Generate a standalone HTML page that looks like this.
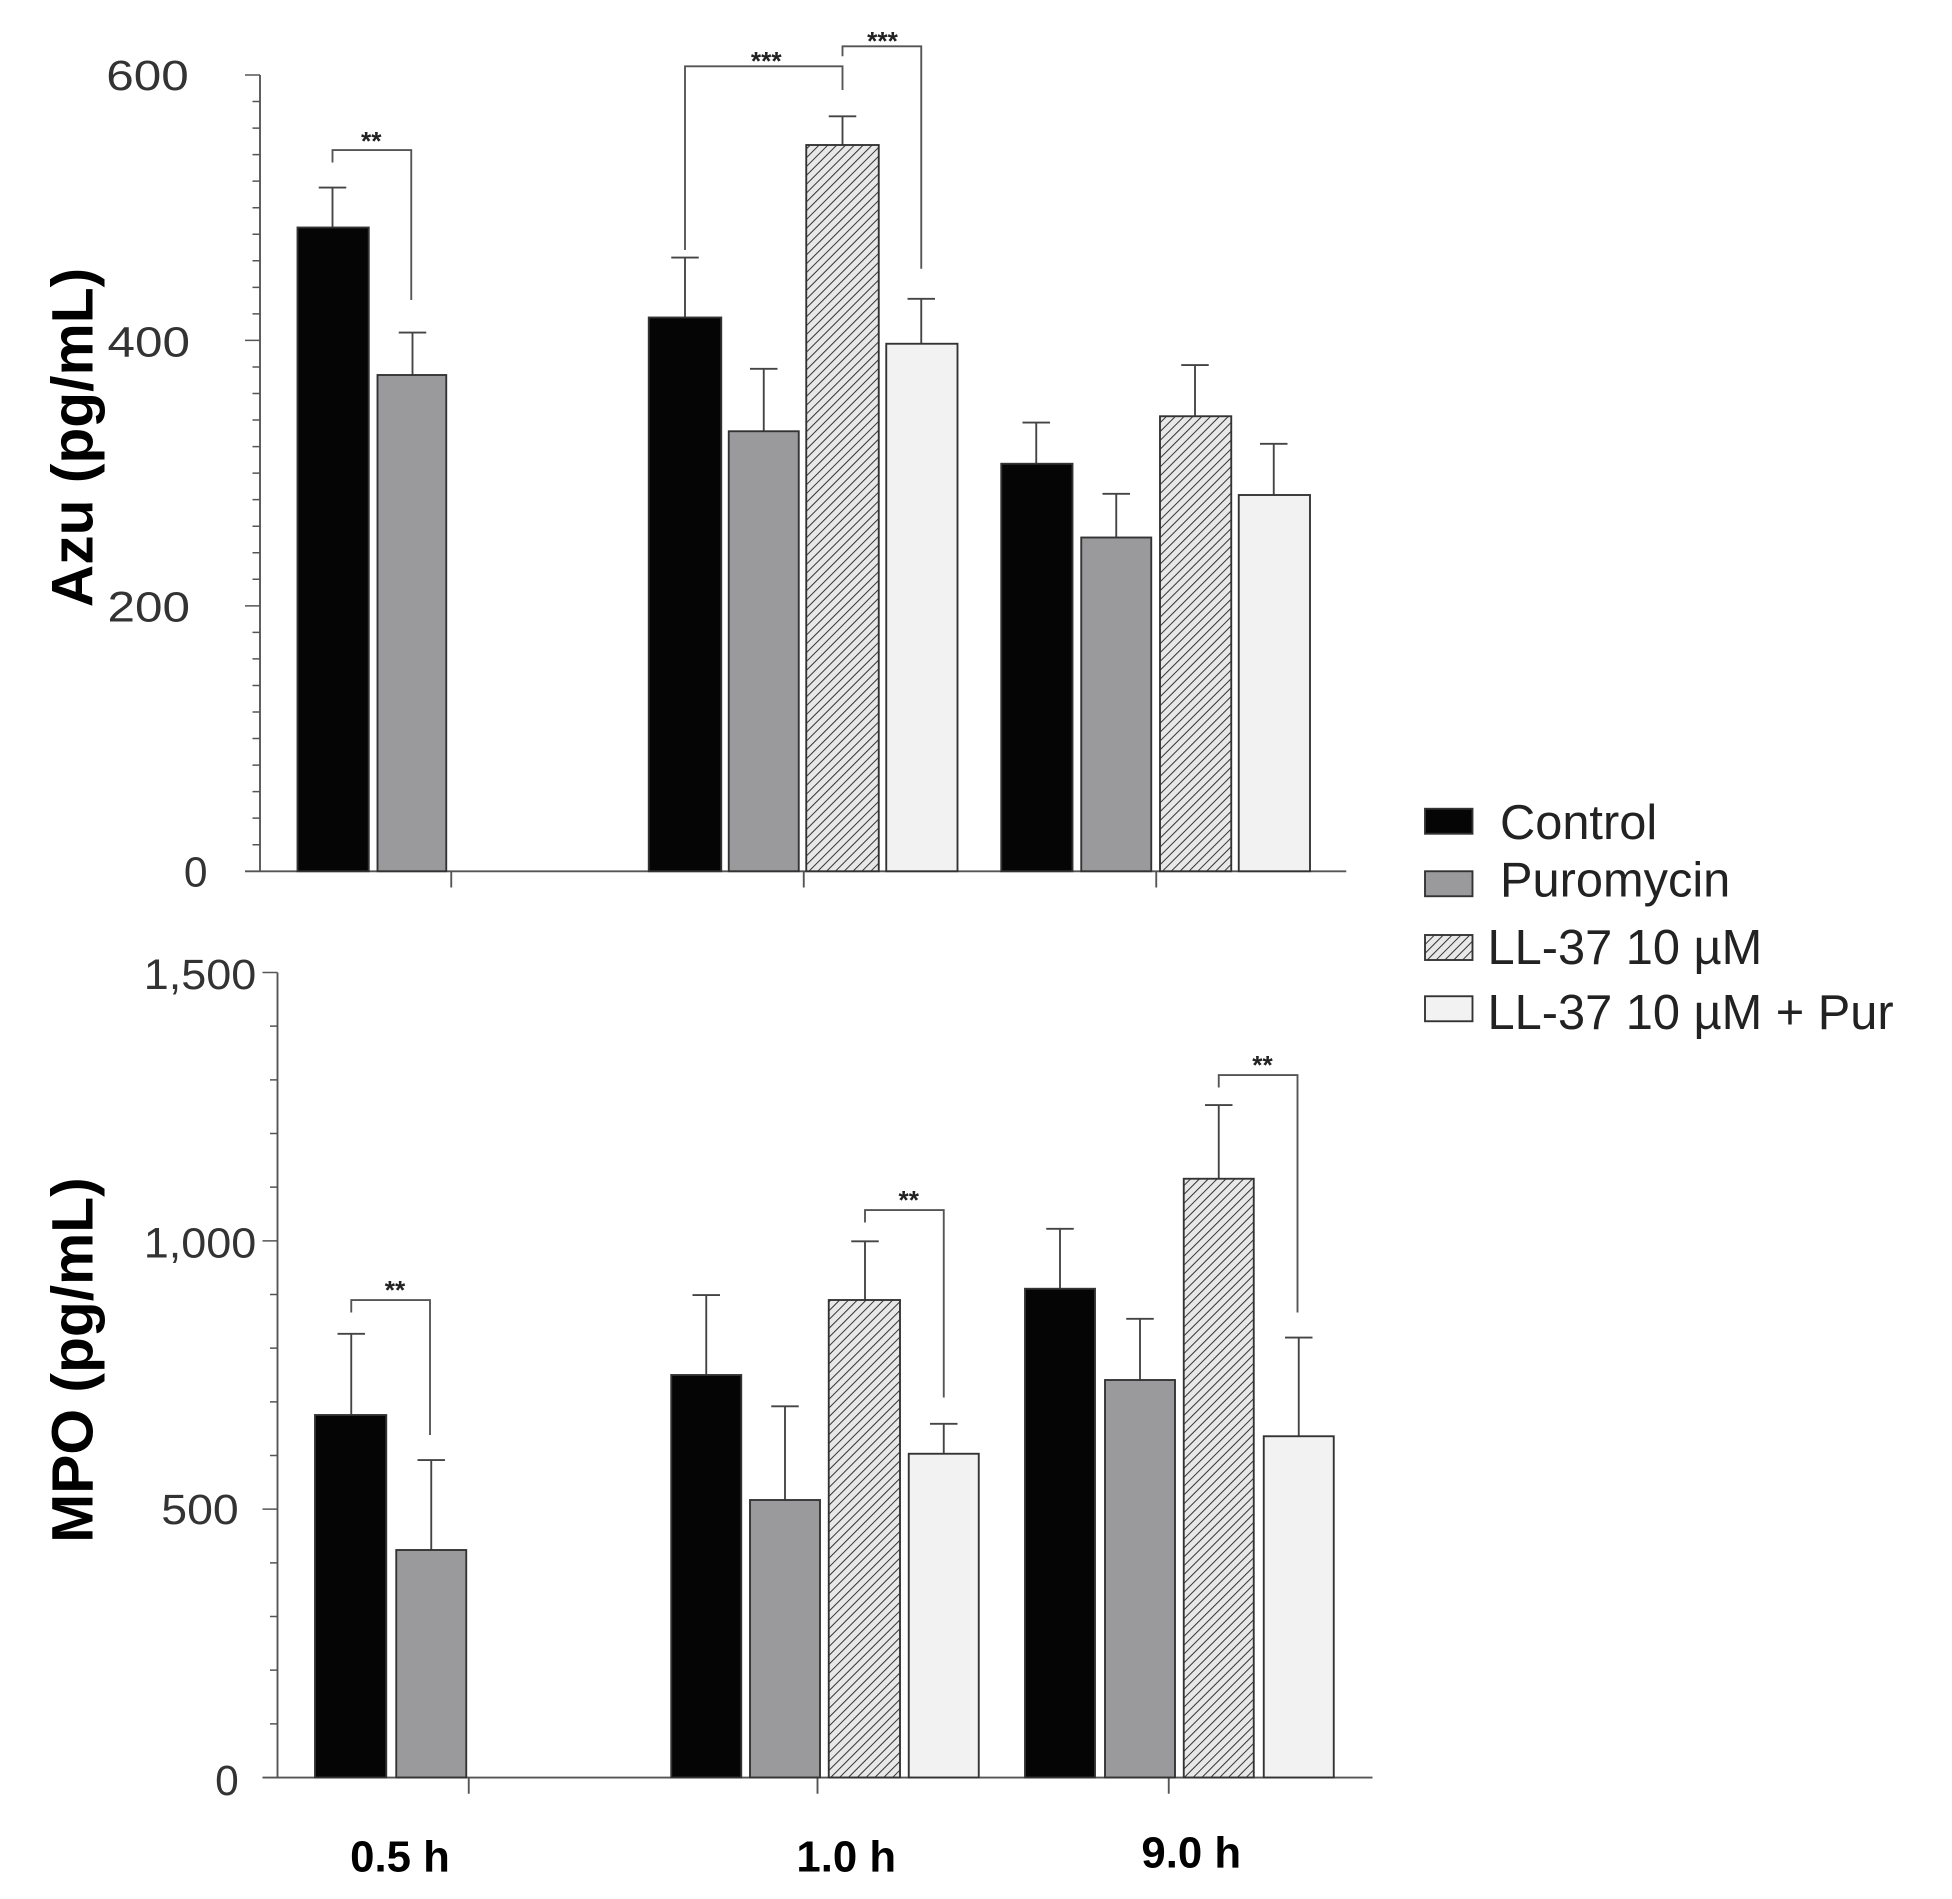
<!DOCTYPE html>
<html><head><meta charset="utf-8"><style>html,body{margin:0;padding:0;background:#fff}svg{display:block}</style></head>
<body>
<svg width="1952" height="1899" viewBox="0 0 1561.6 1519.2" xmlns="http://www.w3.org/2000/svg" font-family="Liberation Sans, sans-serif">
<defs>
<pattern id="h" patternUnits="userSpaceOnUse" width="5" height="5" patternTransform="rotate(45)">
<rect width="5" height="5" fill="#e8e8e8"/><line x1="0" y1="0" x2="0" y2="5" stroke="#333" stroke-width="1.6"/>
</pattern>
</defs>
<g stroke="#555" stroke-width="1.5" fill="none">
<line x1="208" y1="60" x2="208" y2="697"/>
<line x1="196" y1="697" x2="1077" y2="697"/>
<line x1="361" y1="697" x2="361" y2="710"/><line x1="643" y1="697" x2="643" y2="710"/><line x1="925" y1="697" x2="925" y2="710"/>
<line x1="222" y1="778" x2="222" y2="1422"/>
<line x1="210" y1="1422" x2="1098" y2="1422"/>
<line x1="375" y1="1422" x2="375" y2="1435"/><line x1="654" y1="1422" x2="654" y2="1435"/><line x1="935" y1="1422" x2="935" y2="1435"/>
</g>
<g stroke="#555" stroke-width="1.2">
<line x1="196" y1="60" x2="208" y2="60"/><line x1="196" y1="272.3" x2="208" y2="272.3"/><line x1="196" y1="484.7" x2="208" y2="484.7"/>
<line x1="202" y1="81.2" x2="208" y2="81.2"/><line x1="202" y1="102.5" x2="208" y2="102.5"/><line x1="202" y1="123.7" x2="208" y2="123.7"/><line x1="202" y1="144.9" x2="208" y2="144.9"/><line x1="202" y1="166.2" x2="208" y2="166.2"/><line x1="202" y1="187.4" x2="208" y2="187.4"/><line x1="202" y1="208.6" x2="208" y2="208.6"/><line x1="202" y1="229.9" x2="208" y2="229.9"/><line x1="202" y1="251.1" x2="208" y2="251.1"/>
<line x1="202" y1="293.6" x2="208" y2="293.6"/><line x1="202" y1="314.8" x2="208" y2="314.8"/><line x1="202" y1="336" x2="208" y2="336"/><line x1="202" y1="357.3" x2="208" y2="357.3"/><line x1="202" y1="378.5" x2="208" y2="378.5"/><line x1="202" y1="399.7" x2="208" y2="399.7"/><line x1="202" y1="421" x2="208" y2="421"/><line x1="202" y1="442.2" x2="208" y2="442.2"/><line x1="202" y1="463.4" x2="208" y2="463.4"/>
<line x1="202" y1="505.9" x2="208" y2="505.9"/><line x1="202" y1="527.1" x2="208" y2="527.1"/><line x1="202" y1="548.4" x2="208" y2="548.4"/><line x1="202" y1="569.6" x2="208" y2="569.6"/><line x1="202" y1="590.8" x2="208" y2="590.8"/><line x1="202" y1="612.1" x2="208" y2="612.1"/><line x1="202" y1="633.3" x2="208" y2="633.3"/><line x1="202" y1="654.5" x2="208" y2="654.5"/><line x1="202" y1="675.8" x2="208" y2="675.8"/>
<line x1="210" y1="778" x2="222" y2="778"/><line x1="210" y1="992.7" x2="222" y2="992.7"/><line x1="210" y1="1207.3" x2="222" y2="1207.3"/>
<line x1="216" y1="820.9" x2="222" y2="820.9"/><line x1="216" y1="863.9" x2="222" y2="863.9"/><line x1="216" y1="906.8" x2="222" y2="906.8"/><line x1="216" y1="949.7" x2="222" y2="949.7"/>
<line x1="216" y1="1035.6" x2="222" y2="1035.6"/><line x1="216" y1="1078.5" x2="222" y2="1078.5"/><line x1="216" y1="1121.5" x2="222" y2="1121.5"/><line x1="216" y1="1164.4" x2="222" y2="1164.4"/>
<line x1="216" y1="1250.3" x2="222" y2="1250.3"/><line x1="216" y1="1293.2" x2="222" y2="1293.2"/><line x1="216" y1="1336.1" x2="222" y2="1336.1"/><line x1="216" y1="1379.1" x2="222" y2="1379.1"/>
</g>
<g font-size="34" fill="#333" text-anchor="end">
<text x="151" y="72" textLength="66" lengthAdjust="spacingAndGlyphs">600</text>
<text x="152" y="285" textLength="66" lengthAdjust="spacingAndGlyphs">400</text>
<text x="152" y="497" textLength="66" lengthAdjust="spacingAndGlyphs">200</text>
<text x="166" y="709">0</text>
<text x="205" y="791" textLength="90" lengthAdjust="spacingAndGlyphs">1,500</text>
<text x="205" y="1006" textLength="90" lengthAdjust="spacingAndGlyphs">1,000</text>
<text x="191" y="1219" textLength="62" lengthAdjust="spacingAndGlyphs">500</text>
<text x="191" y="1436">0</text>
</g>
<text transform="translate(74,350) rotate(-90)" font-size="47" font-weight="bold" text-anchor="middle">Azu (pg/mL)</text>
<text transform="translate(74,1088) rotate(-90)" font-size="47" font-weight="bold" text-anchor="middle">MPO (pg/mL)</text>
<g font-size="35" font-weight="bold" text-anchor="middle">
<text x="320" y="1497">0.5 h</text><text x="677" y="1497">1.0 h</text><text x="953" y="1494">9.0 h</text>
</g>
<g stroke="#444" stroke-width="1.5">
<line x1="266" y1="182" x2="266" y2="150"/><line x1="255" y1="150" x2="277" y2="150"/>
<line x1="330" y1="300" x2="330" y2="266"/><line x1="319" y1="266" x2="341" y2="266"/>
<line x1="548" y1="254" x2="548" y2="206"/><line x1="537" y1="206" x2="559" y2="206"/>
<line x1="611" y1="345" x2="611" y2="295"/><line x1="600" y1="295" x2="622" y2="295"/>
<line x1="674" y1="116" x2="674" y2="93"/><line x1="663" y1="93" x2="685" y2="93"/>
<line x1="737" y1="275" x2="737" y2="239"/><line x1="726" y1="239" x2="748" y2="239"/>
<line x1="829" y1="371" x2="829" y2="338"/><line x1="818" y1="338" x2="840" y2="338"/>
<line x1="893" y1="430" x2="893" y2="395"/><line x1="882" y1="395" x2="904" y2="395"/>
<line x1="956" y1="333" x2="956" y2="292"/><line x1="945" y1="292" x2="967" y2="292"/>
<line x1="1019" y1="396" x2="1019" y2="355"/><line x1="1008" y1="355" x2="1030" y2="355"/>
<line x1="281" y1="1132" x2="281" y2="1067"/><line x1="270" y1="1067" x2="292" y2="1067"/>
<line x1="345" y1="1240" x2="345" y2="1168"/><line x1="334" y1="1168" x2="356" y2="1168"/>
<line x1="565" y1="1100" x2="565" y2="1036"/><line x1="554" y1="1036" x2="576" y2="1036"/>
<line x1="628" y1="1200" x2="628" y2="1125"/><line x1="617" y1="1125" x2="639" y2="1125"/>
<line x1="692" y1="1040" x2="692" y2="993"/><line x1="681" y1="993" x2="703" y2="993"/>
<line x1="755" y1="1163" x2="755" y2="1139"/><line x1="744" y1="1139" x2="766" y2="1139"/>
<line x1="848" y1="1031" x2="848" y2="983"/><line x1="837" y1="983" x2="859" y2="983"/>
<line x1="912" y1="1104" x2="912" y2="1055"/><line x1="901" y1="1055" x2="923" y2="1055"/>
<line x1="975" y1="943" x2="975" y2="884"/><line x1="964" y1="884" x2="986" y2="884"/>
<line x1="1039" y1="1149" x2="1039" y2="1070"/><line x1="1028" y1="1070" x2="1050" y2="1070"/>
</g>
<g stroke="#333" stroke-width="1.5">
<rect x="238" y="182" width="57" height="515" fill="#050505"/>
<rect x="302" y="300" width="55" height="397" fill="#9a9a9c"/>
<rect x="519" y="254" width="58" height="443" fill="#050505"/>
<rect x="583" y="345" width="56" height="352" fill="#9a9a9c"/>
<rect x="645" y="116" width="58" height="581" fill="url(#h)"/>
<rect x="709" y="275" width="57" height="422" fill="#f2f2f2"/>
<rect x="801" y="371" width="57" height="326" fill="#050505"/>
<rect x="865" y="430" width="56" height="267" fill="#9a9a9c"/>
<rect x="928" y="333" width="57" height="364" fill="url(#h)"/>
<rect x="991" y="396" width="57" height="301" fill="#f2f2f2"/>
<rect x="252" y="1132" width="57" height="290" fill="#050505"/>
<rect x="317" y="1240" width="56" height="182" fill="#9a9a9c"/>
<rect x="537" y="1100" width="56" height="322" fill="#050505"/>
<rect x="600" y="1200" width="56" height="222" fill="#9a9a9c"/>
<rect x="663" y="1040" width="57" height="382" fill="url(#h)"/>
<rect x="727" y="1163" width="56" height="259" fill="#f2f2f2"/>
<rect x="820" y="1031" width="56" height="391" fill="#050505"/>
<rect x="884" y="1104" width="56" height="318" fill="#9a9a9c"/>
<rect x="947" y="943" width="56" height="479" fill="url(#h)"/>
<rect x="1011" y="1149" width="56" height="273" fill="#f2f2f2"/>
</g>
<g stroke="#555" stroke-width="1.5" fill="none">
<polyline points="266,130 266,120 329,120 329,240"/>
<polyline points="548,200 548,53 674,53 674,72"/>
<polyline points="674,45 674,37 737,37 737,215"/>
<polyline points="281,1050 281,1040 344,1040 344,1148"/>
<polyline points="692,978 692,968 755,968 755,1118"/>
<polyline points="975,870 975,860 1038,860 1038,1050"/>
</g>
<g font-size="21" font-weight="bold" text-anchor="middle" fill="#222">
<text x="297" y="120">**</text><text x="613" y="56">***</text><text x="706" y="40">***</text>
<text x="316" y="1039">**</text><text x="727" y="967">**</text><text x="1010" y="859">**</text>
</g>
<g stroke="#333" stroke-width="1.5">
<rect x="1140" y="647" width="38" height="20" fill="#050505"/>
<rect x="1140" y="697" width="38" height="20" fill="#9a9a9c"/>
<rect x="1140" y="748" width="38" height="20" fill="url(#h)"/>
<rect x="1140" y="797" width="38" height="20" fill="#f2f2f2"/>
</g>
<g font-size="39" fill="#222">
<text x="1200" y="671">Control</text>
<text x="1200" y="717">Puromycin</text>
<text x="1190" y="771">LL-37 10 µM</text>
<text x="1190" y="823">LL-37 10 µM + Pur</text>
</g>
</svg>
</body></html>
